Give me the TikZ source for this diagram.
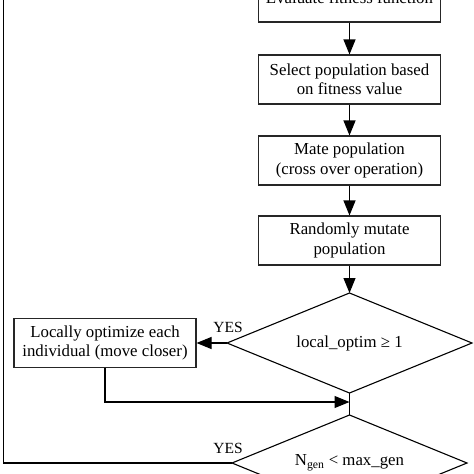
\documentclass[tikz,border=0pt]{standalone}
\usepackage{fontspec}
\setmainfont{Liberation Serif}
\usetikzlibrary{shapes.geometric,arrows.meta}
\begin{document}
\begin{tikzpicture}[x=1pt,y=-1pt,
  font=\fontsize{16.8}{19.5}\selectfont,
  stepbox/.style={draw=black!85,line width=1.1pt,minimum width=182pt,minimum height=49pt,align=center,inner sep=0pt},
  decision/.style={draw=black,line width=1.1pt,diamond,aspect=2.45,inner sep=0pt,outer sep=0pt,align=center},
  conn/.style={line width=1.1pt},
  arr/.style={conn,-{Triangle[length=15pt,width=12pt]}},
  lbl/.style={font=\fontsize{15.5}{18}\selectfont,inner sep=0pt}]
\clip (0,0) rectangle (474,474);
\useasboundingbox (0,0) rectangle (474,474);
\node[stepbox] (eval) at (349.5,-2.5) {Evaluate fitness function};
\node[stepbox] (sel) at (349.5,79.5) {Select population based\\on fitness value};
\node[stepbox] (mate) at (349.5,160.5) {Mate population\\(cross over operation)};
\node[stepbox] (mut) at (349.5,240.5) {Randomly mutate\\population};
\node[decision,minimum width=245pt,minimum height=100pt] (d1) at (349.5,343) {local\_optim ≥ 1};
\node[stepbox] (loc) at (105,343) {Locally optimize each\\individual (move closer)};
\node[decision,minimum width=235pt,minimum height=96pt] (d2) at (349.5,463) {\raisebox{-6pt}{N\textsubscript{gen} < max\_gen}};
\coordinate (j) at (349.5,402);
\coordinate (lb) at (3.5,463);
\coordinate (lt) at (3.5,-30);
\draw[arr] (eval) -- (sel);
\draw[arr] (sel) -- (mate);
\draw[arr] (mate) -- (mut);
\draw[arr] (mut) -- (d1);
\draw[arr] (d1.west) -- (loc.east);
\draw[conn] (d1.south) -- (d2.north);
\draw[arr] (loc.south) |- (j);
\draw[conn] (d2.west) -- (lb) -- (lt);
\node[lbl] (yes1) at (228,327) {YES};
\node[lbl] (yes2) at (228,448) {YES};
\end{tikzpicture}
\end{document}
